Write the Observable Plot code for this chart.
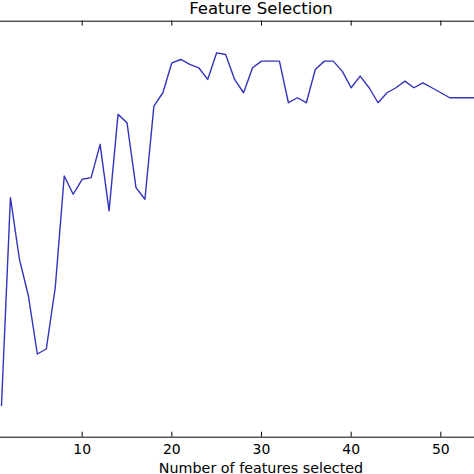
<!DOCTYPE html>
<html><head><meta charset="utf-8">
<script src="https://cdn.jsdelivr.net/npm/d3@7"></script>
<script src="https://cdn.jsdelivr.net/npm/@observablehq/plot@0.6"></script>
<style>
html,body{margin:0;padding:0;background:#fff;overflow:hidden;width:474px;height:474px;}
#wrap{position:absolute;left:-8px;top:0;width:538px;font-family:"DejaVu Sans",sans-serif;}
#title{height:18px;line-height:17px;font-size:16.5px;text-align:center;color:#000;white-space:nowrap;}
#xlabel{line-height:14px;font-size:14.3px;text-align:center;color:#000;white-space:nowrap;}
#chart svg{display:block;}
</style></head><body>
<div id="wrap"><div id="title"></div><div id="chart"></div><div id="xlabel"></div></div>
<script>
const title = "Feature Selection";
const xLabel = "Number of features selected";
const numFeatures = [1,2,3,4,5,6,7,8,9,10,11,12,13,14,15,16,17,18,19,20,21,22,23,24,25,26,27,28,29,30,31,32,33,34,35,36,37,38,39,40,41,42,43,44,45,46,47,48,49,50,51,52,53,54];
const scores = [0.719,0.844,0.807,0.785,0.750,0.753,0.790,0.857,0.846,0.855,
                0.856,0.876,0.836,0.894,0.889,0.850,0.843,0.899,0.907,0.925,
                0.927,0.924,0.922,0.915,0.931,0.930,0.915,0.907,0.922,0.926,
                0.926,0.926,0.901,0.904,0.901,0.921,0.926,0.926,0.920,0.910,
                0.917,0.910,0.901,0.907,0.910,0.914,0.910,0.913,0.910,0.907,
                0.904,0.904,0.904,0.904];
const xTicks = [10,20,30,40,50];
const xDomain = [0,60];
const yDomain = [0.70,0.95];

const data = numFeatures.map((n,i)=>({n, score: scores[i]}));
document.getElementById("title").textContent = title;
document.getElementById("xlabel").textContent = xLabel;

const W = 538, H = 442.6, mT = 2.7, mB = 23.9;
const frameH = H - mT - mB;
const chart = Plot.plot({
  width: W, height: H,
  marginLeft: 0, marginRight: 0, marginTop: mT, marginBottom: mB,
  x: {domain: xDomain},
  y: {domain: yDomain, axis: null},
  style: {fontFamily: "DejaVu Sans", fontSize: "14px", color: "#000", background: "#fff", overflow: "visible"},
  marks: [
    Plot.ruleY(yDomain, {stroke: "#000", strokeWidth: 1}),
    Plot.tickX(xTicks, {x: d => d, insetTop: frameH - 5, stroke: "#000"}),
    Plot.tickX(xTicks, {x: d => d, insetBottom: frameH - 5, stroke: "#000"}),
    Plot.axisX(xTicks, {tickSize: 0, tickPadding: 6.7, label: null, fontSize: 14}),
    Plot.line(data, {x: "n", y: "score", stroke: "#3333bb", strokeWidth: 1.4})
  ]
});
document.getElementById("chart").appendChild(chart);
</script>
</body></html>
